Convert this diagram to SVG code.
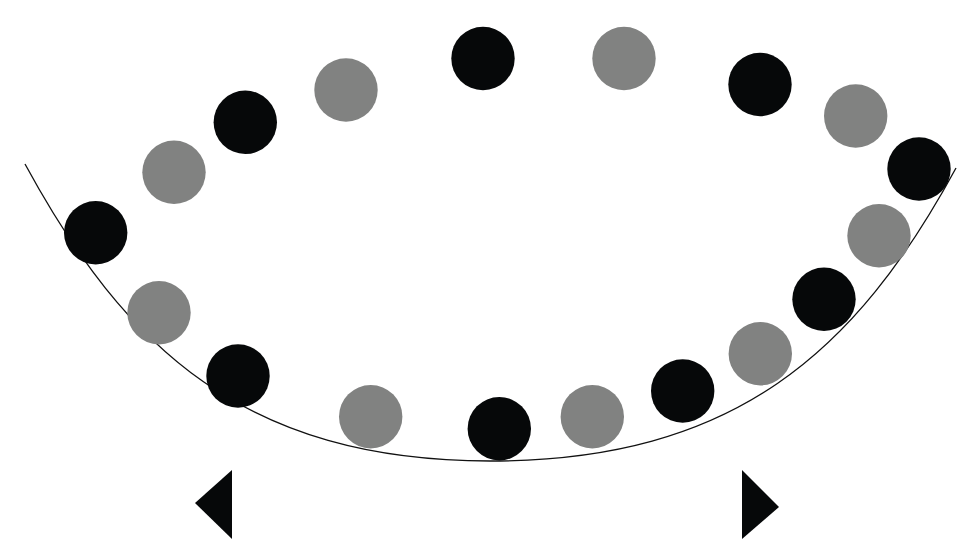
<svg xmlns="http://www.w3.org/2000/svg" width="980" height="547" viewBox="0 0 980 547">
<style>
.b{fill:#060809}
.g{fill:#818281}
.arc{fill:none;stroke:#111;stroke-width:1.3}
.tri{fill:#060809}
</style>
<rect width="980" height="547" fill="#fff"/>
<path class="arc" d="M25,164 C125,348 245,461 490,461 C735,461 856,352 956,168"/>
<g id="dots">
<circle class="b" cx="483" cy="58.5" r="31.7"/>
<circle class="g" cx="624" cy="58.5" r="31.7"/>
<circle class="g" cx="346" cy="90" r="31.7"/>
<circle class="b" cx="760" cy="84.5" r="31.7"/>
<circle class="b" cx="245.3" cy="122.3" r="31.7"/>
<circle class="g" cx="855.7" cy="116" r="31.7"/>
<circle class="g" cx="174" cy="172.3" r="31.7"/>
<circle class="b" cx="919" cy="169" r="31.7"/>
<circle class="b" cx="95.7" cy="232.7" r="31.7"/>
<circle class="g" cx="879" cy="235.7" r="31.7"/>
<circle class="g" cx="159" cy="312.7" r="31.7"/>
<circle class="b" cx="824" cy="299.3" r="31.7"/>
<circle class="b" cx="238" cy="376" r="31.7"/>
<circle class="g" cx="760.3" cy="353.7" r="31.7"/>
<circle class="g" cx="370.7" cy="416.7" r="31.7"/>
<circle class="b" cx="499.3" cy="428.7" r="31.7"/>
<circle class="g" cx="592.3" cy="416.7" r="31.7"/>
<circle class="b" cx="682.7" cy="391" r="31.7"/>
</g>
<g id="left-arrow"><polygon class="tri" points="195,503 232,470 232,539"/></g>
<g id="right-arrow"><polygon class="tri" points="742,470 779,507 742,539"/></g>
</svg>
